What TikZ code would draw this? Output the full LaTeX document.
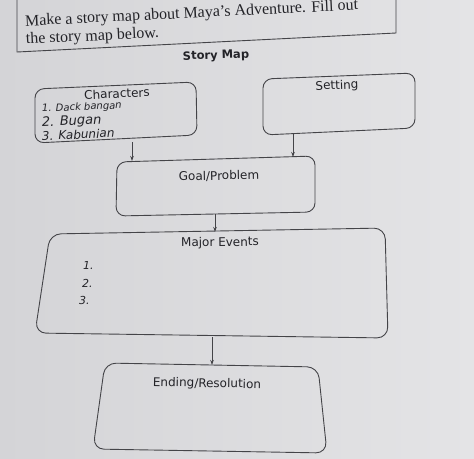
\documentclass[tikz,border=0pt]{standalone}
\usepackage{fontspec}
\setmainfont{Liberation Serif}
\newfontfamily\comic{DejaVu Sans}
\newfontfamily\hand{DejaVu Sans}
\usetikzlibrary{arrows.meta}
\definecolor{bgl}{RGB}{212,212,215}
\definecolor{bgr}{RGB}{228,228,230}
\definecolor{ink}{RGB}{68,68,72}
\definecolor{txt}{RGB}{35,35,40}
\begin{document}
\begin{tikzpicture}[x=1pt,y=-1pt,
  box/.style={draw=ink, line width=0.9pt, rounded corners=9pt},
  conn/.style={draw=ink, line width=0.8pt, -{Stealth[length=5pt,width=3.5pt]}},
  lab/.style={font=\comic\fontsize{12}{14}\selectfont, text=txt, inner sep=0pt},
  handw/.style={font=\hand\itshape, text=txt, inner sep=0pt, anchor=base west},
  instr/.style={font=\fontsize{16}{18}\selectfont, text=txt, inner sep=0pt, align=left, rotate=2.8}]
\useasboundingbox (0,0) rectangle (474,458);
\shade[left color=bgl, right color=bgr] (0,0) rectangle (474,458);

% instruction box
\coordinate (iTL) at (17,-5);
\coordinate (iBL) at (17,52);
\coordinate (iBR) at (396,33);
\coordinate (iTR) at (396,-5);
\draw[draw=ink, line width=0.9pt] (iTL) -- (iBL) -- (iBR) -- (iTR);
\node[instr, anchor=base west] (instrtext) at (26,44) {Make a story map about Maya’s Adventure. Fill out\\the story map below.};

\node[lab, font=\comic\bfseries\fontsize{11.5}{13}\selectfont, rotate=2] (title) at (216,56) {Story Map};

% Characters
\coordinate (cTL) at (35,89);
\coordinate (cTR) at (196,82);
\coordinate (cBR) at (197,135);
\coordinate (cBL) at (35,143);
\draw[box] (cTL) -- (cTR) -- (cBR) -- (cBL) -- cycle;
\node[lab, rotate=2.5] (chars) at (117,93.5) {Characters};
\node[handw, font=\hand\itshape\fontsize{10}{11}\selectfont, rotate=2.5] (c1) at (42,112) {1. Dack bangan};
\node[handw, font=\hand\itshape\fontsize{13}{14}\selectfont, rotate=2.5] (c2) at (42,126.5) {2. Bugan};
\node[handw, font=\hand\itshape\fontsize{12}{13}\selectfont, rotate=2.5] (c3) at (42,140.5) {3. Kabunian};

% Setting
\coordinate (sTL) at (263,79);
\coordinate (sTR) at (415,73);
\coordinate (sBR) at (415,128);
\coordinate (sBL) at (263,135);
\draw[box] (sTL) -- (sTR) -- (sBR) -- (sBL) -- cycle;
\node[lab, rotate=2] (setting) at (337,86) {Setting};

% Goal/Problem
\coordinate (gTL) at (117,162);
\coordinate (gTR) at (315,156);
\coordinate (gBR) at (315,212);
\coordinate (gBL) at (116,216);
\draw[box] (gTL) -- (gTR) -- (gBR) -- (gBL) -- cycle;
\node[lab, rotate=1] (goal) at (219,176) {Goal/Problem};

% Major Events
\coordinate (mTL) at (50,234);
\coordinate (mTR) at (385,228);
\coordinate (mBR) at (388,338);
\coordinate (mBL) at (35,333);
\draw[box, rounded corners=11pt] (mTL) -- (mTR) -- (mBR) -- (mBL) -- cycle;
\node[lab, rotate=0.7] (major) at (220,243) {Major Events};
\node[handw, font=\comic\itshape\fontsize{11}{13}\selectfont] (m1) at (83,269) {1.};
\node[handw, font=\comic\itshape\fontsize{11}{13}\selectfont] (m2) at (82,287) {2.};
\node[handw, font=\comic\itshape\fontsize{11}{13}\selectfont] (m3) at (79,304) {3.};

% Ending/Resolution
\coordinate (eTL) at (105,363);
\coordinate (eTR) at (318,367);
\coordinate (eBR) at (327,453);
\coordinate (eBL) at (93,449);
\draw[box, rounded corners=11pt] (eTL) -- (eTR) -- (eBR) -- (eBL) -- cycle;
\node[lab, rotate=-1.2] (ending) at (207,384) {Ending/Resolution};

% connectors
\coordinate (cOut) at (132,142);
\coordinate (gIn1) at (132,161);
\coordinate (sOut) at (293,134);
\coordinate (gIn2) at (293,157);
\coordinate (gOut) at (215,214);
\coordinate (mIn) at (215,232);
\coordinate (mOut) at (212,337);
\coordinate (eIn) at (212,365);
\draw[conn] (cOut) -- (gIn1);
\draw[conn] (sOut) -- (gIn2);
\draw[conn] (gOut) -- (mIn);
\draw[conn] (mOut) -- (eIn);
\end{tikzpicture}
\end{document}
